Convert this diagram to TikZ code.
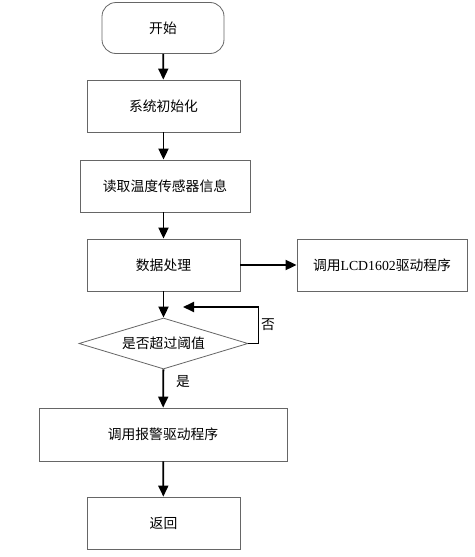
\documentclass[tikz,border=0pt]{standalone}
\usepackage{fontspec}
\setmainfont{Liberation Serif}
\newfontfamily\cjk{Noto Sans CJK SC}
\usetikzlibrary{shapes.geometric,arrows.meta}
\begin{document}
\begin{tikzpicture}[x=1pt,y=-1pt,
  box/.style={draw=black!60, line width=0.8pt, rectangle, inner sep=0pt, font=\cjk\fontsize{13.8}{16}\selectfont},
  lbl/.style={inner sep=0pt, font=\cjk\fontsize{13.8}{16}\selectfont},
  arr/.style={line width=1.8pt, -{Triangle[length=11pt,width=10pt]}}]
\useasboundingbox (0,0) rectangle (474,557);
\fill[white] (0,0) rectangle (474,557);
\node[box, rounded corners=14pt, minimum width=122pt, minimum height=51pt] (start) at (163,28) {开始};
\node[box, minimum width=153pt, minimum height=52pt] (init) at (163.5,106) {系统初始化};
\node[box, minimum width=170pt, minimum height=52pt] (read) at (165,186) {读取温度传感器信息};
\node[box, minimum width=153pt, minimum height=52pt] (proc) at (163.5,265) {数据处理};
\node[box, minimum width=170pt, minimum height=52pt] (lcd) at (382,265) {调用{\rmfamily LCD1602}驱动程序};
\node[box, shape=diamond, aspect=3.3, minimum width=169pt, minimum height=51pt] (dec) at (163.5,343.5) {是否超过阈值};
\node[box, minimum width=248pt, minimum height=53pt] (alarm) at (163,434.5) {调用报警驱动程序};
\node[box, minimum width=153pt, minimum height=52pt] (ret) at (163.5,523) {返回};
\coordinate (loopend) at (183,307);
\draw[arr] (start) -- (init);
\draw[arr] (init) -- (read.north -| init);
\draw[arr] (read.south -| init) -- (proc);
\draw[arr] (proc) -- (lcd);
\draw[arr] (proc) -- (dec);
\draw[arr] (dec.east) -- ++(10,0) |- (loopend);
\draw[arr] (dec) -- (alarm);
\draw[arr] (alarm) -- (ret);
\node[lbl] (no) at (268,325) {否};
\node[lbl] (yes) at (183,382) {是};
\end{tikzpicture}
\end{document}
